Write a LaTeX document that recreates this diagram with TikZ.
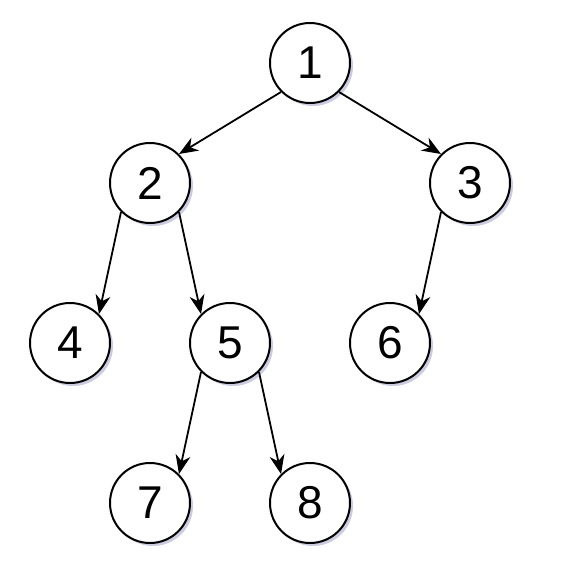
\documentclass[tikz,border=0pt]{standalone}
\usepackage{fontspec}
\setmainfont{Liberation Sans}
\usetikzlibrary{arrows.meta,shadows}
\begin{document}
\begin{tikzpicture}[x=1pt,y=-1pt,
  treenode/.style={circle,draw=black,line width=2pt,fill=white,minimum size=80pt,inner sep=0pt,
    font=\fontsize{46}{46}\selectfont,
    drop shadow={opacity=0.45,shadow xshift=3pt,shadow yshift=-3pt,fill=blue!30!gray!70}},
  edge/.style={line width=1.8pt,-{Stealth[length=19pt,width=15pt,inset=6pt]}}]
\useasboundingbox (0,0) rectangle (565,578);
\node[treenode] (n1) at (310,63) {1};
\node[treenode] (n2) at (150,183) {2};
\node[treenode] (n3) at (470,183) {3};
\node[treenode] (n4) at (70,343) {4};
\node[treenode] (n5) at (230,343) {5};
\node[treenode] (n6) at (390,343) {6};
\node[treenode] (n7) at (150,503) {7};
\node[treenode] (n8) at (310,503) {8};
\draw[edge] (n1.225) -- (n2.45);
\draw[edge] (n1.-45) -- (n3.135);
\draw[edge] (n2.225) -- (n4.45);
\draw[edge] (n2.-45) -- (n5.135);
\draw[edge] (n3.225) -- (n6.45);
\draw[edge] (n5.225) -- (n7.45);
\draw[edge] (n5.-45) -- (n8.135);
\end{tikzpicture}
\end{document}
